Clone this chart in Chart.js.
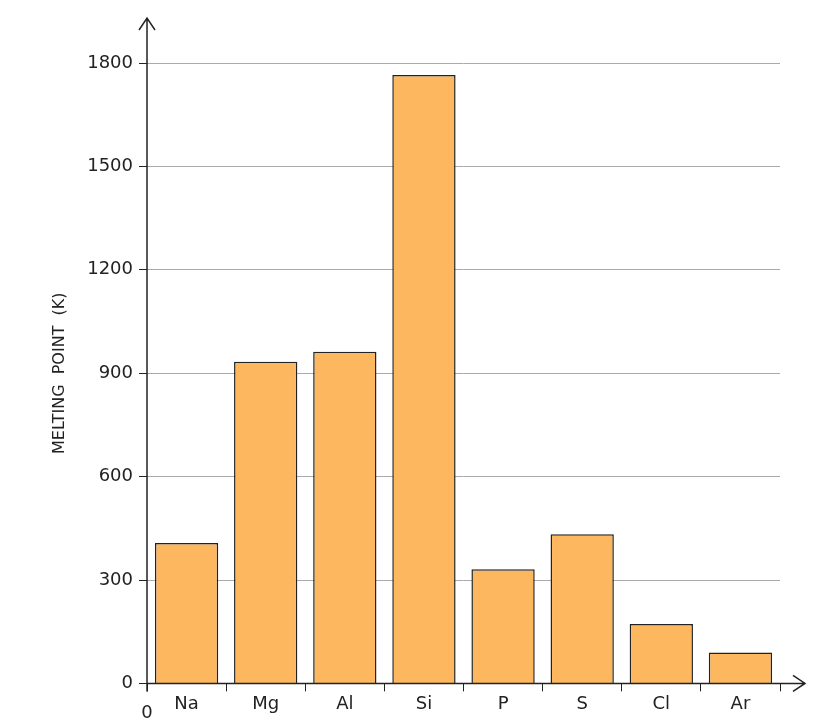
<!DOCTYPE html>
<html><head><meta charset="utf-8">
<script src="https://cdn.jsdelivr.net/npm/chart.js@4"></script>
<style>body{margin:0;background:#fff}#wrap{width:837px;height:727px}</style>
</head><body>
<div id="wrap"><canvas id="c"></canvas></div>
<script>
const elements = ['Na', 'Mg', 'Al', 'Si', 'P', 'S', 'Cl', 'Ar'];
const meltingPoints = [407, 933, 962, 1765, 331, 433, 172, 90];
const yTicks = [0, 300, 600, 900, 1200, 1500, 1800];

// axis lines with arrow heads, plus the origin "0"
const arrows = {
    id: 'arrows',
    afterDraw(chart) {
        const ctx = chart.ctx, a = chart.chartArea;
        ctx.save();
        ctx.strokeStyle = '#222';
        ctx.lineWidth = 1.5;
        ctx.beginPath();
        ctx.moveTo(a.left, a.bottom + 8); ctx.lineTo(a.left, a.top - 45);
        ctx.moveTo(a.left - 8, a.top - 33); ctx.lineTo(a.left, a.top - 45); ctx.lineTo(a.left + 8, a.top - 33);
        ctx.moveTo(a.left, a.bottom); ctx.lineTo(a.right + 25, a.bottom);
        ctx.moveTo(a.right + 13, a.bottom - 8); ctx.lineTo(a.right + 25, a.bottom); ctx.lineTo(a.right + 13, a.bottom + 8);
        ctx.stroke();
        ctx.fillStyle = '#222';
        ctx.font = '18px "DejaVu Sans"';
        ctx.textAlign = 'center';
        ctx.fillText('0', a.left, a.bottom + 35);
        ctx.restore();
    }
};

new Chart(document.getElementById('c'), {
    type: 'bar',
    data: {
        labels: elements,
        datasets: [{
            data: meltingPoints,
            backgroundColor: '#fdb75e',
            borderColor: '#222',
            borderWidth: 1.5,
            barPercentage: 0.8,
            categoryPercentage: 1
        }]
    },
    options: {
        responsive: true,
        maintainAspectRatio: false,
        animation: false,
        layout: { padding: { top: 63, right: 57, bottom: 10, left: 38 } },
        plugins: { legend: { display: false }, tooltip: { enabled: false } },
        scales: {
            x: {
                grid: { display: true, drawOnChartArea: false, tickLength: 8, offset: true, color: '#222' },
                border: { display: false },
                ticks: { color: '#222', font: { size: 18, family: 'DejaVu Sans' }, padding: 2 }
            },
            y: {
                min: 0, max: 1800,
                afterBuildTicks: s => { s.ticks = yTicks.map(v => ({ value: v })); },
                grid: { color: '#aaa', tickLength: 8, tickColor: '#222' },
                border: { display: false },
                ticks: { color: '#222', font: { size: 18, family: 'DejaVu Sans' }, padding: 6, callback: v => String(v) },
                title: { display: true, text: 'MELTING  POINT  (K)', color: '#222', font: { size: 16, family: 'DejaVu Sans' }, padding: 12 }
            }
        }
    },
    plugins: [arrows]
});
</script>
</body></html>
